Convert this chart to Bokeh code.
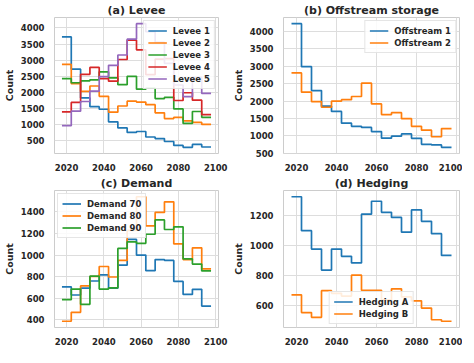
from bokeh.plotting import figure
from bokeh.layouts import column, row
from bokeh.models import FixedTicker, Range1d
from bokeh.embed import file_html
from bokeh.resources import INLINE

years = [2020, 2025, 2030, 2035, 2040, 2045, 2050, 2055, 2060, 2065, 2070, 2075, 2080, 2085, 2090, 2095]
bin_width = 5

levee_1 = [3720, 2720, 1830, 1560, 1480, 1090, 900, 760, 790, 620, 570, 480, 360, 300, 390, 310]
levee_2 = [2867, 2270, 2030, 2200, 1880, 1390, 1580, 1730, 1700, 1620, 1370, 1190, 1230, 1120, 1070, 1010]
levee_3 = [2425, 2300, 2360, 2390, 2640, 2450, 2240, 2500, 2100, 2130, 1810, 1850, 1490, 1040, 1410, 1230]
levee_4 = [1400, 1690, 2560, 2775, 2430, 2350, 3020, 3620, 3320, 2550, 3030, 3050, 1750, 1990, 1760, 1310]
levee_5 = [970, 1420, 1720, 2040, 2490, 2840, 3160, 3650, 4130, 3880, 3550, 2900, 2230, 1870, 2470, 1970]

offstream_1 = [4230, 2990, 2300, 1850, 1700, 1360, 1270, 1240, 1120, 930, 985, 1050, 925, 750, 735, 665]
offstream_2 = [2810, 2255, 1985, 1820, 1995, 2040, 2130, 2515, 1915, 1610, 1665, 1490, 1270, 1160, 970, 1205]

demand_70 = [706, 631, 694, 760, 817, 694, 906, 1144, 1000, 856, 958, 950, 756, 636, 683, 528]
demand_80 = [388, 471, 715, 802, 894, 797, 950, 1228, 1539, 1270, 1394, 1492, 1103, 958, 1067, 872]
demand_90 = [588, 686, 545, 805, 686, 697, 1061, 1122, 1108, 1192, 1325, 1236, 1261, 964, 917, 853]

hedging_a = [1322, 1096, 973, 833, 973, 925, 881, 1206, 1292, 1218, 1184, 1086, 1234, 1158, 1076, 931]
hedging_b = [668, 550, 518, 696, 678, 660, 799, 698, 698, 634, 708, 654, 628, 580, 502, 492]

x_ticks = [2020, 2040, 2060, 2080, 2100]
y_ticks_a = [500, 1000, 1500, 2000, 2500, 3000, 3500, 4000]
y_ticks_b = [500, 1000, 1500, 2000, 2500, 3000, 3500, 4000]
y_ticks_c = [400, 600, 800, 1000, 1200, 1400]
y_ticks_d = [600, 800, 1000, 1200]

COLORS = ["#1f77b4", "#ff7f0e", "#2ca02c", "#d62728", "#9467bd"]
FONT = "DejaVu Sans"
TEXT = "#262626"

edges = [y - bin_width / 2 for y in years] + [years[-1] + bin_width / 2]


def make_panel(title, series, labels, yticks, width, height, mbl, mbr, mbt, mbb,
               legend_loc):
    allv = [v for s in series for v in s]
    lo, hi = min(allv), max(allv)
    pad = (hi - lo) * 0.05
    xpad = (edges[-1] - edges[0]) * 0.05
    p = figure(width=width, height=height, output_backend="svg", toolbar_location=None,
               x_range=Range1d(edges[0] - xpad, edges[-1] + xpad),
               y_range=Range1d(lo - pad, hi + pad),
               min_border_left=mbl, min_border_right=mbr,
               min_border_top=mbt, min_border_bottom=mbb)
    p.title.text = title
    p.title.align = "center"
    p.title.text_font = FONT
    p.title.text_font_size = "11px"
    p.title.text_font_style = "bold"
    p.title.text_color = TEXT
    p.title.standoff = 2
    p.title.offset = 0
    for s, lab, c in zip(series, labels, COLORS):
        p.step(edges, list(s) + [s[-1]], mode="after", line_width=1.7, color=c,
               legend_label=lab)
    p.xaxis.ticker = FixedTicker(ticks=x_ticks)
    p.yaxis.ticker = FixedTicker(ticks=yticks)
    p.yaxis.axis_label = "Count"
    for ax in (p.xaxis, p.yaxis):
        ax.axis_line_color = None
        ax.major_tick_line_color = None
        ax.minor_tick_line_color = None
        ax.major_label_text_font = FONT
        ax.major_label_text_font_size = "8.5px"
        ax.major_label_text_font_style = "bold"
        ax.major_label_text_color = TEXT
        ax.major_label_standoff = 4
        ax.axis_label_text_font = FONT
        ax.axis_label_text_font_size = "9.5px"
        ax.axis_label_text_font_style = "bold"
        ax.axis_label_text_color = TEXT
        ax.axis_label_standoff = 3
    p.grid.grid_line_color = "#dddddd"
    p.grid.grid_line_width = 1
    p.outline_line_color = "#cccccc"
    p.outline_line_width = 1
    lg = p.legend[0]
    lg.location = legend_loc
    lg.label_text_font = FONT
    lg.label_text_font_size = "8.5px"
    lg.label_text_font_style = "bold"
    lg.label_text_color = TEXT
    lg.glyph_width = 19
    lg.glyph_height = 11
    lg.label_height = 11
    lg.label_standoff = 6
    lg.spacing = 1
    lg.padding = 4
    lg.margin = 3
    lg.border_line_color = "#cccccc"
    lg.border_line_width = 1
    lg.background_fill_alpha = 0.85
    return p


pa = make_panel("(a) Levee", [levee_1, levee_2, levee_3, levee_4, levee_5],
                ["Levee 1", "Levee 2", "Levee 3", "Levee 4", "Levee 5"], y_ticks_a,
                229, 173, 38, 11, 14, 12, "top_right")
pb = make_panel("(b) Offstream storage", [offstream_1, offstream_2],
                ["Offstream 1", "Offstream 2"], y_ticks_b,
                233, 173, 45, 3, 14, 12, "top_right")
pc = make_panel("(c) Demand", [demand_70, demand_80, demand_90],
                ["Demand 70", "Demand 80", "Demand 90"], y_ticks_c,
                229, 174, 38, 11, 14, 12, "top_left")
pd = make_panel("(d) Hedging", [hedging_a, hedging_b],
                ["Hedging A", "Hedging B"], y_ticks_d,
                233, 174, 45, 3, 14, 12, "bottom_center")

layout = column(row(pa, pb), row(pc, pd))
open("out.html", "w").write(file_html(layout, INLINE))
